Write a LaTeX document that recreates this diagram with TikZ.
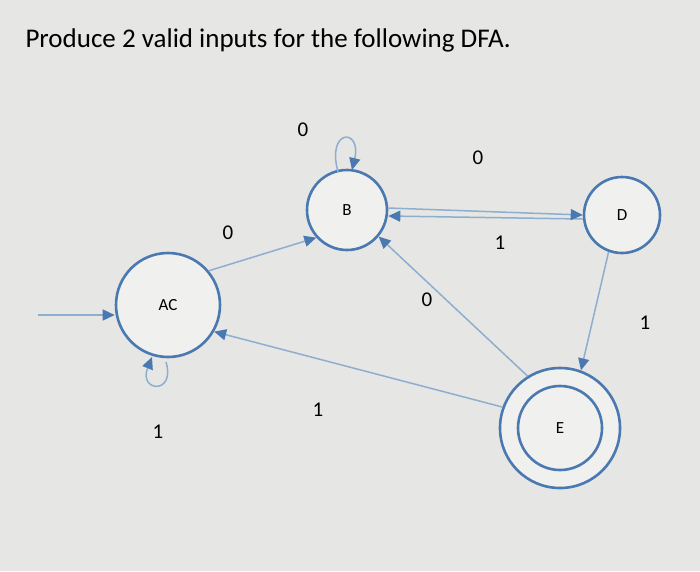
\documentclass[tikz,border=0pt]{standalone}
\usepackage{fontspec}
\setmainfont{Carlito}
\usetikzlibrary{arrows.meta}
\definecolor{bg}{HTML}{E6E6E4}
\definecolor{ring}{HTML}{4A78B0}
\definecolor{edge}{HTML}{8EAECF}
\tikzset{
 st/.style={circle,draw=ring,line width=2.6pt,fill=white!40!bg,inner sep=0pt,font=\fontsize{17}{17}\selectfont},
 tr/.style={draw=edge,line width=1.5pt,-{Triangle[length=12pt,width=11pt,color=ring]}},
 lb/.style={font=\fontsize{21}{21}\selectfont}
}
\begin{document}
\begin{tikzpicture}[x=1pt,y=-1pt]
\fill[bg] (0,0) rectangle (700,571);
\useasboundingbox (0,0) rectangle (700,571);
\node[anchor=west,font=\fontsize{27}{27}\selectfont] (title) at (22,40) {Produce 2 valid inputs for the following DFA.};
\node[st,minimum size=104pt] (AC) at (168,305) {AC};
\node[st,minimum size=80pt] (B) at (347,210) {B};
\node[st,minimum size=76pt] (D) at (622,215) {D};
\node[st,minimum size=120pt] (E) at (560,428) {};
\node[st,minimum size=84pt] (Ei) at (560,428) {E};
\coordinate (in) at (38,315);
\draw[tr] (in) -- (AC.west |- in);
% self loops
\draw[tr] (166,362) .. controls (176,395) and (138,392) .. (152,357);
\draw[tr] (338,172) .. controls (326,128) and (362,128) .. (352,170);
\node[lb] (l0b) at (303,130) {0};
\node[lb] (l1ac) at (158,432) {1};
% edges
\draw[tr] (AC.40) -- (B.222);
\node[lb] (lab1) at (228,233) {0};
\draw[tr] ([yshift=-4pt]D.west) -- ([yshift=-6pt]B.east);
\node[lb] (lab2) at (478,158) {0};
\draw[tr] ([yshift=2pt]B.east) -- ([yshift=0pt]D.west);
\node[lb] (lab3) at (500,243) {1};
\draw[tr] (E.122) -- (B.-40);
\node[lb] (lab4) at (427,300) {0};
\draw[tr] (D.-110) -- (E.70);
\node[lb] (lab5) at (645,323) {1};
\draw[tr] (E.160) -- (AC.-30);
\node[lb] (lab6) at (318,410) {1};
\end{tikzpicture}
\end{document}
